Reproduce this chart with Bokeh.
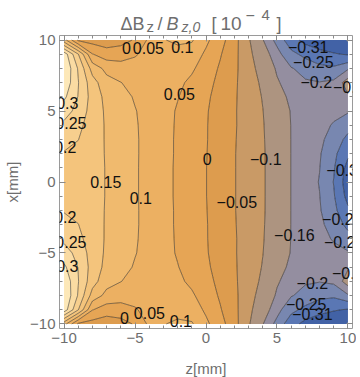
import numpy as np
from bokeh.plotting import figure
from bokeh.layouts import column
from bokeh.models import Range1d, LinearAxis, FixedTicker
from bokeh.embed import file_html
from bokeh.resources import INLINE
from bokeh.core.properties import value

# ---- data -------------------------------------------------------------
z_mm = list(range(-10, 11))          # horizontal axis z [mm]
x_half = list(range(0, 11))          # vertical axis x [mm] (field mirror-symmetric in x)

# dBz/Bz0 [1e-4], one row per x (0..10), columns z=-10..10
row_x0 = [0.190, 0.177, 0.163, 0.148, 0.127, 0.105, 0.085, 0.065, 0.043, 0.022, 0.001,
          -0.024, -0.048, -0.070, -0.095, -0.125, -0.161, -0.180, -0.202, -0.252, -0.345]
row_x1 = [0.190, 0.178, 0.163, 0.148, 0.127, 0.105, 0.085, 0.065, 0.043, 0.022, 0.001,
          -0.024, -0.048, -0.070, -0.095, -0.125, -0.161, -0.179, -0.199, -0.245, -0.330]
row_x2 = [0.197, 0.186, 0.165, 0.147, 0.127, 0.105, 0.086, 0.065, 0.044, 0.023, 0.002,
          -0.024, -0.048, -0.070, -0.095, -0.126, -0.161, -0.177, -0.196, -0.235, -0.300]
row_x3 = [0.215, 0.201, 0.168, 0.146, 0.126, 0.105, 0.086, 0.065, 0.044, 0.023, 0.003,
          -0.023, -0.047, -0.070, -0.096, -0.127, -0.161, -0.174, -0.190, -0.220, -0.265]
row_x4 = [0.240, 0.215, 0.172, 0.145, 0.125, 0.104, 0.086, 0.065, 0.045, 0.024, 0.003,
          -0.022, -0.046, -0.070, -0.097, -0.130, -0.161, -0.171, -0.182, -0.205, -0.230]
row_x5 = [0.270, 0.235, 0.177, 0.142, 0.122, 0.102, 0.085, 0.066, 0.046, 0.026, 0.004,
          -0.020, -0.046, -0.071, -0.099, -0.137, -0.162, -0.172, -0.175, -0.185, -0.195]
row_x6 = [0.310, 0.248, 0.180, 0.135, 0.115, 0.096, 0.083, 0.068, 0.052, 0.030, 0.008,
          -0.017, -0.045, -0.072, -0.103, -0.145, -0.168, -0.180, -0.180, -0.170, -0.165]
row_x7 = [0.340, 0.252, 0.170, 0.118, 0.101, 0.085, 0.080, 0.070, 0.060, 0.040, 0.015,
          -0.012, -0.043, -0.075, -0.110, -0.155, -0.180, -0.195, -0.198, -0.190, -0.140]
row_x8 = [0.350, 0.245, 0.130, 0.085, 0.070, 0.070, 0.075, 0.072, 0.070, 0.057, 0.027,
          -0.006, -0.040, -0.079, -0.123, -0.166, -0.197, -0.215, -0.235, -0.240, -0.205]
row_x9 = [0.330, 0.202, 0.052, 0.025, 0.030, 0.045, 0.068, 0.078, 0.085, 0.075, 0.042,
          0.004, -0.037, -0.086, -0.138, -0.184, -0.235, -0.265, -0.290, -0.305, -0.315]
row_x10 = [0.120, -0.010, -0.020, -0.030, -0.020, 0.005, 0.060, 0.098, 0.108, 0.105, 0.060,
           0.020, -0.033, -0.094, -0.158, -0.214, -0.285, -0.330, -0.350, -0.360, -0.370]

levels = [-0.6, -0.31, -0.25, -0.2, -0.16, -0.1, -0.05, 0.0, 0.05, 0.1, 0.15, 0.2, 0.25, 0.3, 0.6]
band_colors = ["#4262a6", "#5a77b4", "#7887b0", "#948ea0", "#ad9480", "#c99a66",
               "#dd9c4e", "#e6a555", "#ecb062", "#f0ba6e", "#f4c47c", "#f7cf8e",
               "#fadba2", "#fde8b8"]

label_text = ["0", "0.05", "0.1", "0.05", "0.3", "0.25", "0.2", "0.15", "0.1",
              "0.2", "0.25", "0.3", "0", "0.05", "0.1",
              "0", "\u22120.05", "\u22120.1", "\u22120.16",
              "\u22120.31", "\u22120.25", "\u22120.2", "\u22120.16",
              "\u22120.31", "\u22120.25", "\u22120.2", "\u22120.16",
              "\u22120.2", "\u22120.25", "\u22120.31"]
label_z = [-5.61, -4.06, -1.67, -1.88, -9.77, -9.52, -9.91, -7.06, -4.59,
           -9.91, -9.52, -9.77, -5.75, -3.99, -1.77,
           0.09, 2.17, 4.21, 6.22,
           7.20, 7.56, 7.77, 10.37,
           9.90, 9.60, 9.42, 10.30,
           7.49, 7.06, 7.49]
label_x = [9.42, 9.42, 9.50, 6.17, 5.55, 4.15, 2.45, 0.0, -1.15,
           -2.50, -4.20, -5.90, -9.56, -9.20, -9.80,
           1.65, -1.40, 1.65, -3.75,
           9.49, 8.43, 7.02, 6.67,
           0.85, -2.60, -4.20, -6.40,
           -7.15, -8.60, -9.30]

ticks = [-10, -5, 0, 5, 10]
tick_text = ["\u221210", "\u22125", "0", "5", "10"]
minor = list(range(-10, 11))

# title pieces: text, font size, style, baseline shift (sub/superscript)
title_parts = [("\u0394B", "18px", "normal", 0), ("z", "15px", "normal", -3),
               ("/", "18px", "normal", 0), ("B", "18px", "italic", 0),
               ("z,0", "14px", "italic", -3), ("[", "18px", "normal", 0),
               ("10", "19px", "normal", 0), ("\u2212", "16px", "normal", 9),
               ("4", "15px", "normal", 9), ("]", "18px", "normal", 0)]
title_left_px = [121, 147, 158, 167, 182, 212, 221, 246, 262, 277]

# ---- grid ------------------------------------------------------------
half = [row_x0, row_x1, row_x2, row_x3, row_x4, row_x5, row_x6, row_x7, row_x8, row_x9, row_x10]
x_mm = [-v for v in x_half[::-1]] + x_half[1:]
field = np.array([half[abs(v)] for v in x_mm])

# ---- figure ----------------------------------------------------------
GRAY = "#6e6e6e"
LEFT, FW, FH = 59, 293, 293
p = figure(frame_width=FW, frame_height=FH,
           x_range=Range1d(-10.32, 10.32), y_range=Range1d(-10.32, 10.32),
           output_backend="svg", toolbar_location=None,
           min_border_left=LEFT, min_border_top=1, min_border_right=4, min_border_bottom=5)
p.grid.visible = False
p.outline_line_color = "#9a9a9a"
p.outline_line_width = 1
p.background_fill_color = "white"
p.border_fill_color = "white"

p.contour(z_mm, x_mm, field, levels, fill_color=band_colors,
          line_color="#000000", line_alpha=0.45, line_width=1)

p.text(x=label_z, y=label_x, text=label_text, text_align="center", text_baseline="middle",
       text_font=value("Liberation Sans"), text_font_size="16px", text_color="#111111")

overrides = {t: s for t, s in zip(ticks, tick_text)}
blank = {t: "" for t in ticks}

def style_axis(ax, show):
    ax.ticker = FixedTicker(ticks=ticks, minor_ticks=minor)
    ax.axis_line_color = None
    ax.major_tick_in = 6
    ax.major_tick_out = 0
    ax.minor_tick_in = 3
    ax.minor_tick_out = 0
    ax.major_tick_line_color = "#8a8a8a"
    ax.minor_tick_line_color = "#8a8a8a"
    if show:
        ax.major_label_overrides = overrides
        ax.major_label_text_font = "Liberation Sans"
        ax.major_label_text_font_size = "15px"
        ax.major_label_text_color = GRAY
        ax.axis_label_text_font = "Liberation Sans"
        ax.axis_label_text_font_size = "15px"
        ax.axis_label_text_font_style = "normal"
        ax.axis_label_text_color = GRAY
    else:
        ax.major_label_overrides = blank
        ax.major_label_standoff = 0

style_axis(p.xaxis[0], True)
style_axis(p.yaxis[0], True)
p.xaxis[0].axis_label = "z[mm]"
p.yaxis[0].axis_label = "x[mm]"
p.xaxis[0].major_label_standoff = 4
p.xaxis[0].axis_label_standoff = 14
p.yaxis[0].major_label_standoff = 4
p.yaxis[0].axis_label_standoff = 6
p.yaxis[0].major_label_orientation = "horizontal"

top_ax = LinearAxis()
right_ax = LinearAxis()
style_axis(top_ax, False)
style_axis(right_ax, False)
p.add_layout(top_ax, "above")
p.add_layout(right_ax, "right")

# ---- title strip: own small figure, same frame left/width, x in page pixels ----
TH = 34
PX0 = LEFT + 1   # page x of the frame's left edge
t = figure(frame_width=FW, frame_height=TH,
           x_range=Range1d(PX0, PX0 + FW), y_range=Range1d(0, TH),
           x_axis_type=None, y_axis_type=None, output_backend="svg", toolbar_location=None,
           min_border_left=LEFT, min_border_right=4, min_border_top=0, min_border_bottom=0)
t.outline_line_color = None
t.grid.visible = False
t.background_fill_color = "white"
t.border_fill_color = "white"
base = 11.0
for (txt, size, style, dy), xl in zip(title_parts, title_left_px):
    t.text(x=[xl], y=[base + dy], text=[txt], text_align="left", text_baseline="alphabetic",
           text_font=value("Liberation Sans"), text_font_size=size,
           text_font_style=style, text_color=GRAY)

layout = column(t, p, spacing=0)
open("out.html", "w").write(file_html(layout, INLINE))
